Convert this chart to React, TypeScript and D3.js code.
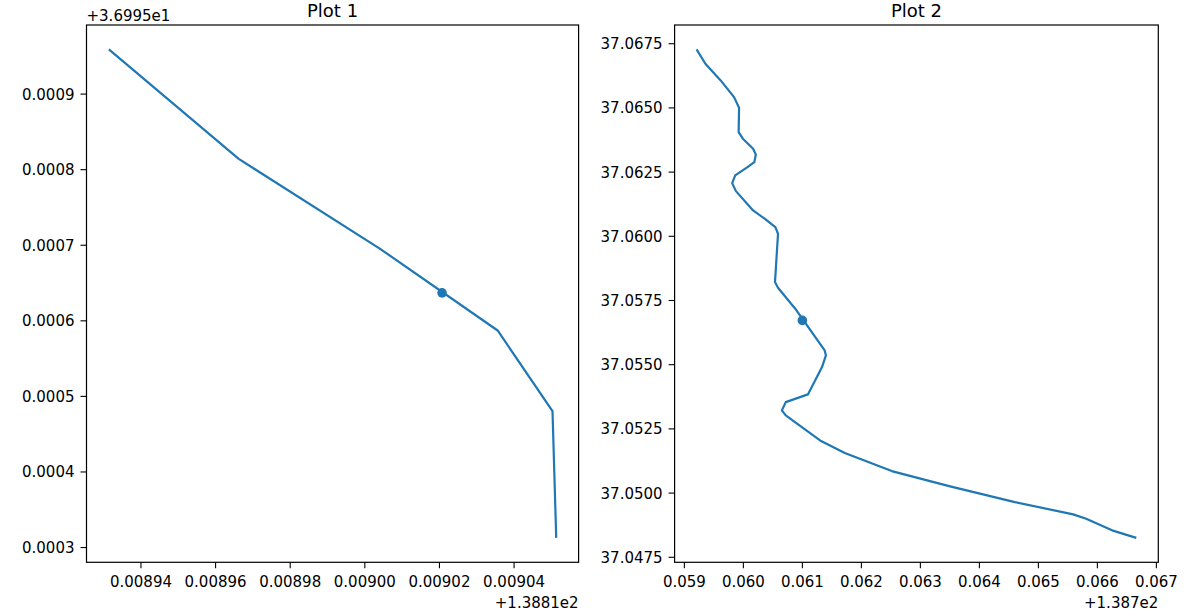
import React from 'react';
import * as d3 from 'd3';

// Plot 1 track (lon / lat) and the highlighted position
const track1Lon = [138.8189314, 138.8189662, 138.819004, 138.8190356, 138.8190503, 138.8190513];
const track1Lat = [36.9959591, 36.9958142, 36.9956956, 36.9955872, 36.9954806, 36.9953128];
const marker1 = { lon: 138.8190207, lat: 36.995637 };

// Plot 2 track
const track2Lon = [
  138.759207, 138.759356, 138.759615, 138.759842, 138.759927, 138.75992, 138.759991, 138.760165,
  138.760211, 138.760186, 138.760069, 138.759862, 138.75981, 138.759874, 138.760165, 138.76036,
  138.760542, 138.760587, 138.760536, 138.760587, 138.760879, 138.761378, 138.761399, 138.761333,
  138.761094, 138.760718, 138.760653, 138.760718, 138.7613, 138.761719, 138.762515, 138.763504,
  138.764602, 138.76559, 138.76581, 138.766249, 138.76666,
];
const track2Lat = [
  37.067278, 37.066721, 37.066071, 37.065421, 37.065008, 37.064058, 37.063801, 37.063411,
  37.063189, 37.062889, 37.062695, 37.062372, 37.062072, 37.06176, 37.061009, 37.060686,
  37.060358, 37.060101, 37.058217, 37.057999, 37.057181, 37.055557, 37.055362, 37.054907,
  37.053844, 37.053544, 37.053221, 37.053026, 37.052052, 37.051558, 37.050857, 37.050261,
  37.04965, 37.049171, 37.049004, 37.048549, 37.048256,
];
const marker2 = { lon: 138.761, lat: 37.056725 };

// tick values
const xTicks1 = [138.81894, 138.81896, 138.81898, 138.819, 138.81902, 138.81904];
const yTicks1 = [36.9953, 36.9954, 36.9955, 36.9956, 36.9957, 36.9958, 36.9959];
const xTicks2 = [138.759, 138.76, 138.761, 138.762, 138.763, 138.764, 138.765, 138.766, 138.767];
const yTicks2 = [37.0475, 37.05, 37.0525, 37.055, 37.0575, 37.06, 37.0625, 37.065, 37.0675];

const W = 1200;
const H = 616;
const TOP = 25;
const BOTTOM = 562.3;
const FONT = 'DejaVu Sans';
const BLUE = '#1f77b4';

interface PanelProps {
  title: string;
  lon: number[];
  lat: number[];
  marker: { lon: number; lat: number };
  left: number;
  right: number;
  xTicks: number[];
  yTicks: number[];
  xFmt: (v: number) => string;
  yFmt: (v: number) => string;
  xOffsetText?: string;
  yOffsetText?: string;
}

// matplotlib style 5% margins
function padded(vals: number[]): [number, number] {
  const [lo, hi] = d3.extent(vals) as [number, number];
  const m = (hi - lo) * 0.05;
  return [lo - m, hi + m];
}

function Panel(p: PanelProps) {
  const x = d3.scaleLinear().domain(padded([...p.lon, p.marker.lon])).range([p.left, p.right]);
  const y = d3.scaleLinear().domain(padded([...p.lat, p.marker.lat])).range([BOTTOM, TOP]);
  const pts = p.lon.map((v, i) => [v, p.lat[i]] as [number, number]);
  const line = d3.line<[number, number]>().x(d => x(d[0])).y(d => y(d[1]));

  return (
    <g fontFamily={FONT}>
      <text x={(p.left + p.right) / 2} y={16.5} textAnchor="middle" fontSize={18} fill="#000">
        {p.title}
      </text>
      <path d={line(pts) ?? ''} fill="none" stroke={BLUE} strokeWidth={2.2} strokeLinejoin="round" strokeLinecap="butt" />
      <circle cx={x(p.marker.lon)} cy={y(p.marker.lat)} r={4.8} fill={BLUE} />
      <rect x={p.left} y={TOP} width={p.right - p.left} height={BOTTOM - TOP} fill="none" stroke="#000" strokeWidth={1.2} />
      {p.xTicks.map(t => (
        <g key={'x' + t}>
          <line x1={x(t)} x2={x(t)} y1={BOTTOM} y2={BOTTOM + 6} stroke="#000" strokeWidth={1.1} />
          <text x={x(t)} y={587} textAnchor="middle" fontSize={15} fill="#000">
            {p.xFmt(t)}
          </text>
        </g>
      ))}
      {p.yTicks.map(t => (
        <g key={'y' + t}>
          <line x1={p.left - 6} x2={p.left} y1={y(t)} y2={y(t)} stroke="#000" strokeWidth={1.1} />
          <text x={p.left - 12} y={y(t) + 5.5} textAnchor="end" fontSize={15} fill="#000">
            {p.yFmt(t)}
          </text>
        </g>
      ))}
      {p.yOffsetText && (
        <text x={p.left} y={20.5} fontSize={15} fill="#000">
          {p.yOffsetText}
        </text>
      )}
      {p.xOffsetText && (
        <text x={p.right} y={608} textAnchor="end" fontSize={15} fill="#000">
          {p.xOffsetText}
        </text>
      )}
    </g>
  );
}

export default function App() {
  return (
    <svg
      width={W}
      height={H}
      viewBox={`0 0 ${W} ${H}`}
      style={{ position: 'absolute', top: 0, left: 0, background: '#fff' }}
    >
      <Panel
        title="Plot 1"
        lon={track1Lon}
        lat={track1Lat}
        marker={marker1}
        left={86.5}
        right={578.6}
        xTicks={xTicks1}
        yTicks={yTicks1}
        xFmt={v => (v - 138.81).toFixed(5)}
        yFmt={v => (v - 36.995).toFixed(4)}
        xOffsetText="+1.3881e2"
        yOffsetText="+3.6995e1"
      />
      <Panel
        title="Plot 2"
        lon={track2Lon}
        lat={track2Lat}
        marker={marker2}
        left={674.6}
        right={1158.3}
        xTicks={xTicks2}
        yTicks={yTicks2}
        xFmt={v => (v - 138.7).toFixed(3)}
        yFmt={v => v.toFixed(4)}
        xOffsetText="+1.387e2"
      />
    </svg>
  );
}
